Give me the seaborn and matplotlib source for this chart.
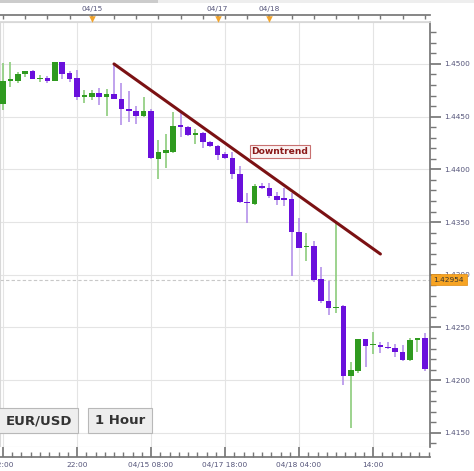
import matplotlib
matplotlib.use("Agg")
import matplotlib.pyplot as plt
import matplotlib.transforms as mtransforms
from matplotlib.patches import Rectangle
from matplotlib.ticker import MultipleLocator, FixedLocator, FormatStrFormatter
import seaborn as sns

# hourly EUR/USD candles
opens = [1.44620, 1.44839, 1.44839, 1.44905, 1.44934, 1.44855, 1.44867, 1.44839, 1.45016, 1.44912,
         1.44864, 1.44687, 1.44690, 1.44728, 1.44684, 1.44715, 1.44668, 1.44573, 1.44557, 1.44507,
         1.44557, 1.44099, 1.44158, 1.44168, 1.44415, 1.44405, 1.44326, 1.44348, 1.44263, 1.44225,
         1.44143, 1.44111, 1.43956, 1.43694, 1.43672, 1.43845, 1.43821, 1.43750, 1.43719, 1.43716,
         1.43409, 1.43259, 1.43276, 1.42957, 1.42754, 1.42682, 1.42704, 1.42043, 1.42090, 1.42391,
         1.42331, 1.42334, 1.42312, 1.42303, 1.42265, 1.42192, 1.42381, 1.42403]
highs = [1.45009, 1.45022, 1.44927, 1.44934, 1.44938, 1.44896, 1.44886, 1.45019, 1.45019, 1.44934,
         1.44943, 1.44753, 1.44753, 1.44769, 1.44760, 1.45000, 1.44823, 1.44747, 1.44602, 1.44690,
         1.44576, 1.44279, 1.44333, 1.44547, 1.44535, 1.44412, 1.44380, 1.44355, 1.44269, 1.44230,
         1.44168, 1.44168, 1.44035, 1.43779, 1.43860, 1.43868, 1.43868, 1.43783, 1.43826, 1.43773,
         1.43536, 1.43394, 1.43321, 1.43071, 1.42944, 1.43494, 1.42710, 1.42175, 1.42391, 1.42391,
         1.42460, 1.42365, 1.42359, 1.42341, 1.42334, 1.42403, 1.42403, 1.42445]
lows = [1.44564, 1.44785, 1.44820, 1.44877, 1.44858, 1.44832, 1.44820, 1.44839, 1.44858, 1.44832,
        1.44658, 1.44633, 1.44658, 1.44611, 1.44509, 1.44665, 1.44418, 1.44453, 1.44431, 1.44500,
        1.44096, 1.43906, 1.44016, 1.44153, 1.44307, 1.44317, 1.44238, 1.44200, 1.44212, 1.44089,
        1.44099, 1.43906, 1.43678, 1.43489, 1.43665, 1.43814, 1.43726, 1.43662, 1.43653, 1.42989,
        1.43251, 1.43131, 1.42929, 1.42730, 1.42619, 1.42640, 1.41954, 1.41544, 1.42071, 1.42128,
        1.42249, 1.42255, 1.42293, 1.42217, 1.42185, 1.42185, 1.42265, 1.42090]
closes = [1.44839, 1.44848, 1.44905, 1.44934, 1.44858, 1.44861, 1.44839, 1.45016, 1.44905, 1.44858,
          1.44684, 1.44696, 1.44728, 1.44684, 1.44715, 1.44665, 1.44570, 1.44557, 1.44507, 1.44557,
          1.44105, 1.44162, 1.44184, 1.44415, 1.44405, 1.44326, 1.44348, 1.44263, 1.44225, 1.44137,
          1.44105, 1.43956, 1.43688, 1.43678, 1.43845, 1.43821, 1.43750, 1.43710, 1.43712, 1.43409,
          1.43251, 1.43267, 1.42951, 1.42754, 1.42682, 1.42697, 1.42043, 1.42097, 1.42391, 1.42327,
          1.42337, 1.42312, 1.42303, 1.42265, 1.42192, 1.42381, 1.42403, 1.42106]

bottom_tick_pos = [0, 10, 20, 30, 40, 50]
bottom_tick_labels = ["12:00", "22:00", "04/15 08:00", "04/17 18:00", "04/18 04:00", "14:00"]
top_tick_pos = [12, 29, 36]
top_tick_labels = ["04/15", "04/17", "04/18"]

trend_x = [15, 51]
trend_y = [1.4500, 1.43197]

last_price = 1.42954

up_body, up_wick = "#2f9a1f", "#8ccc7c"
dn_body, dn_wick = "#6a10dc", "#b592ea"
tick_color = "#55557a"

sns.set_theme(style="white")
plt.rcParams["font.family"] = ["DejaVu Sans"]

fig = plt.figure(figsize=(4.74, 4.71), dpi=100)
ax = fig.add_axes([0, 1 - 447 / 471, 430 / 474, 425 / 471])

idx = list(range(len(opens)))
is_up = [c >= o for o, c in zip(opens, closes)]

ax.vlines(idx, lows, highs, colors=[up_wick if u else dn_wick for u in is_up], lw=1.2, zorder=3)
heights = [max(abs(c - o), 0.00015) for o, c in zip(opens, closes)]
bottoms = [min(o, c) for o, c in zip(opens, closes)]
ax.bar(idx, heights, bottom=bottoms, width=0.75,
       color=[up_body if u else dn_body for u in is_up], linewidth=0, zorder=4)

sns.lineplot(x=trend_x, y=trend_y, ax=ax, color="#7b1113", lw=2.2, zorder=5)

ax.axhline(last_price, color="#c8c8c8", lw=0.8, ls=(0, (3, 2)), zorder=1)

ax.set_xlim(-0.405, 57.7)
ax.set_ylim(1.41366, 1.45398)

# grid
ax.xaxis.set_major_locator(FixedLocator(bottom_tick_pos))
ax.xaxis.set_minor_locator(MultipleLocator(1.25))
ax.set_xticklabels(bottom_tick_labels)
ax.yaxis.set_major_locator(MultipleLocator(0.005))
ax.yaxis.set_minor_locator(MultipleLocator(0.001))
ax.yaxis.set_major_formatter(FormatStrFormatter("%.4f"))
ax.grid(True, which="major", color="#e4e4e4", lw=0.8, zorder=0)

# axes look
ax.yaxis.tick_right()
for side in ["left"]:
    ax.spines[side].set_visible(False)
ax.spines["top"].set_color("#d8d8d8")
ax.spines["right"].set_color("#777777")
ax.spines["bottom"].set_color("#777777")
ax.spines["bottom"].set_position(("outward", 7))
ax.add_patch(Rectangle((0, 0), 1, 1, transform=ax.transAxes, fill=False,
                       edgecolor="#d8d8d8", lw=0.8, zorder=1))
ax.tick_params(axis="y", which="major", direction="out", length=8, color="#777777",
               labelsize=5.3, labelcolor=tick_color, pad=2, right=True, left=False)
ax.tick_params(axis="y", which="minor", direction="out", length=4, color="#777777", right=True, left=False)
ax.tick_params(axis="x", which="major", direction="in", length=7, color="#777777",
               labelsize=5.3, labelcolor=tick_color, pad=4, bottom=True)
ax.tick_params(axis="x", which="minor", direction="in", length=3.5, color="#777777", bottom=True)

# top date axis
secax = ax.secondary_xaxis(1 + 7 / 425)
secax.set_xticks(top_tick_pos, top_tick_labels)
secax.xaxis.set_minor_locator(MultipleLocator(3))
secax.spines["top"].set_color("#777777")
secax.tick_params(axis="x", which="major", direction="in", length=3, color="#777777",
                  labelsize=5.3, labelcolor=tick_color, pad=2)
secax.tick_params(axis="x", which="minor", direction="in", length=3, color="#777777")
blend = mtransforms.blended_transform_factory(ax.transData, ax.transAxes)
ax.scatter(top_tick_pos, [1 + 3.5 / 425] * len(top_tick_pos), marker="v", s=22,
           color="#f2a32a", transform=blend, clip_on=False, zorder=6, linewidths=0)

# current price tag
blend_y = mtransforms.blended_transform_factory(ax.transAxes, ax.transData)
ax.text(1.008, last_price, f"{last_price:.5f}", transform=blend_y, fontsize=5.3,
        color="#333333", va="center", ha="left", zorder=10,
        bbox=dict(boxstyle="square,pad=0.35", fc="#f7a423", ec="#e08a10", lw=0.5))

# downtrend label
ax.text(37.4, 1.44170, "Downtrend", fontsize=6.6, fontweight="bold", color="#8b1a1a",
        ha="center", va="center", zorder=7,
        bbox=dict(boxstyle="square,pad=0.2", fc="#fbf3f3", ec="#c87070", lw=0.8))

# symbol / timeframe boxes
for x0, x1, label in [(-2, 78, "EUR/USD"), (88, 152, "1 Hour")]:
    fig.add_artist(Rectangle((x0 / 474, 1 - 433 / 471), (x1 - x0) / 474, 25 / 471,
                             transform=fig.transFigure, facecolor="#eeeeee",
                             edgecolor="#b8b8b8", lw=0.8, zorder=8))
    fig.text((max(x0, 0) + x1) / 2 / 474, 1 - 420.5 / 471, label, fontsize=9.5,
             fontweight="bold", color="#333333", ha="center", va="center", zorder=9)

# scrollbar strip at the very top
fig.add_artist(Rectangle((0, 1 - 3 / 471), 1, 3 / 471, transform=fig.transFigure,
                         facecolor="#eeeeee", lw=0))
fig.add_artist(Rectangle((0, 1 - 3 / 471), 158 / 474, 3 / 471, transform=fig.transFigure,
                         facecolor="#cccccc", lw=0))

fig.savefig("out.png", dpi=100)
